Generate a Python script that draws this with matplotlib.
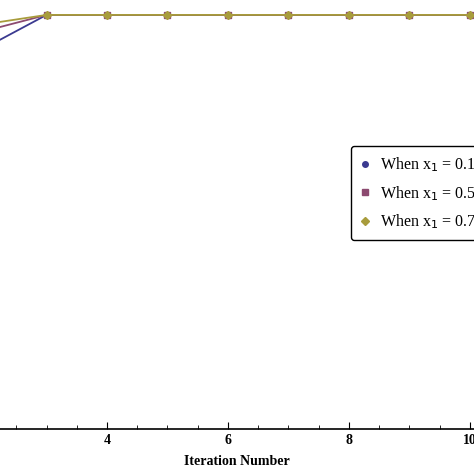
import matplotlib
matplotlib.use("Agg")
import matplotlib.pyplot as plt
from matplotlib.ticker import MultipleLocator

plt.rcParams['font.family'] = ['Liberation Serif', 'DejaVu Serif']

iterations = [2, 3, 4, 5, 6, 7, 8, 9, 10]
blue_vals = [0.922, 1.0, 1.0, 1.0, 1.0, 1.0, 1.0, 1.0, 1.0]
red_vals = [0.962, 1.0, 1.0, 1.0, 1.0, 1.0, 1.0, 1.0, 1.0]
olive_vals = [0.978, 1.0, 1.0, 1.0, 1.0, 1.0, 1.0, 1.0, 1.0]
labels = ["When x$_1$ = 0.125", "When x$_1$ = 0.525", "When x$_1$ = 0.75"]

fig = plt.figure(figsize=(4.74, 4.74), dpi=100)
ax = fig.add_axes([0, 45/474, 1, 429/474])
ax.plot(iterations, blue_vals, color='#3b3a90', marker='o', ms=4, lw=1.3, label=labels[0])
ax.plot(iterations, red_vals, color='#8c4a70', marker='s', ms=4, lw=1.3, label=labels[1])
ax.plot(iterations, olive_vals, color='#a89c3c', marker='D', ms=4, lw=1.3, label=labels[2])

ax.set_xlim(2.23, 10.07)
ax.set_ylim(0, 1.036)
for s in ['top', 'right', 'left']:
    ax.spines[s].set_visible(False)
ax.spines['bottom'].set_linewidth(1.2)
ax.set_yticks([])
ax.xaxis.set_major_locator(MultipleLocator(2))
ax.xaxis.set_minor_locator(MultipleLocator(0.5))
ax.tick_params(axis='x', which='major', direction='in', length=5, labelsize=10)
ax.tick_params(axis='x', which='minor', direction='in', length=3)
for t in ax.get_xticklabels():
    t.set_fontweight('bold')
ax.set_xlabel("Iteration Number", fontsize=10, fontweight='bold', labelpad=6)

leg = ax.legend(loc='upper left', bbox_to_anchor=(343/474, 1 - 138/429), fontsize=11.5,
                frameon=True, fancybox=True, edgecolor='black', framealpha=1,
                handlelength=0.6, handletextpad=0.6, borderpad=0.6, labelspacing=0.6)
for h in leg.legend_handles:
    h.set_linestyle('')
leg.get_frame().set_linewidth(1.0)

fig.savefig("out.png", dpi=100)
